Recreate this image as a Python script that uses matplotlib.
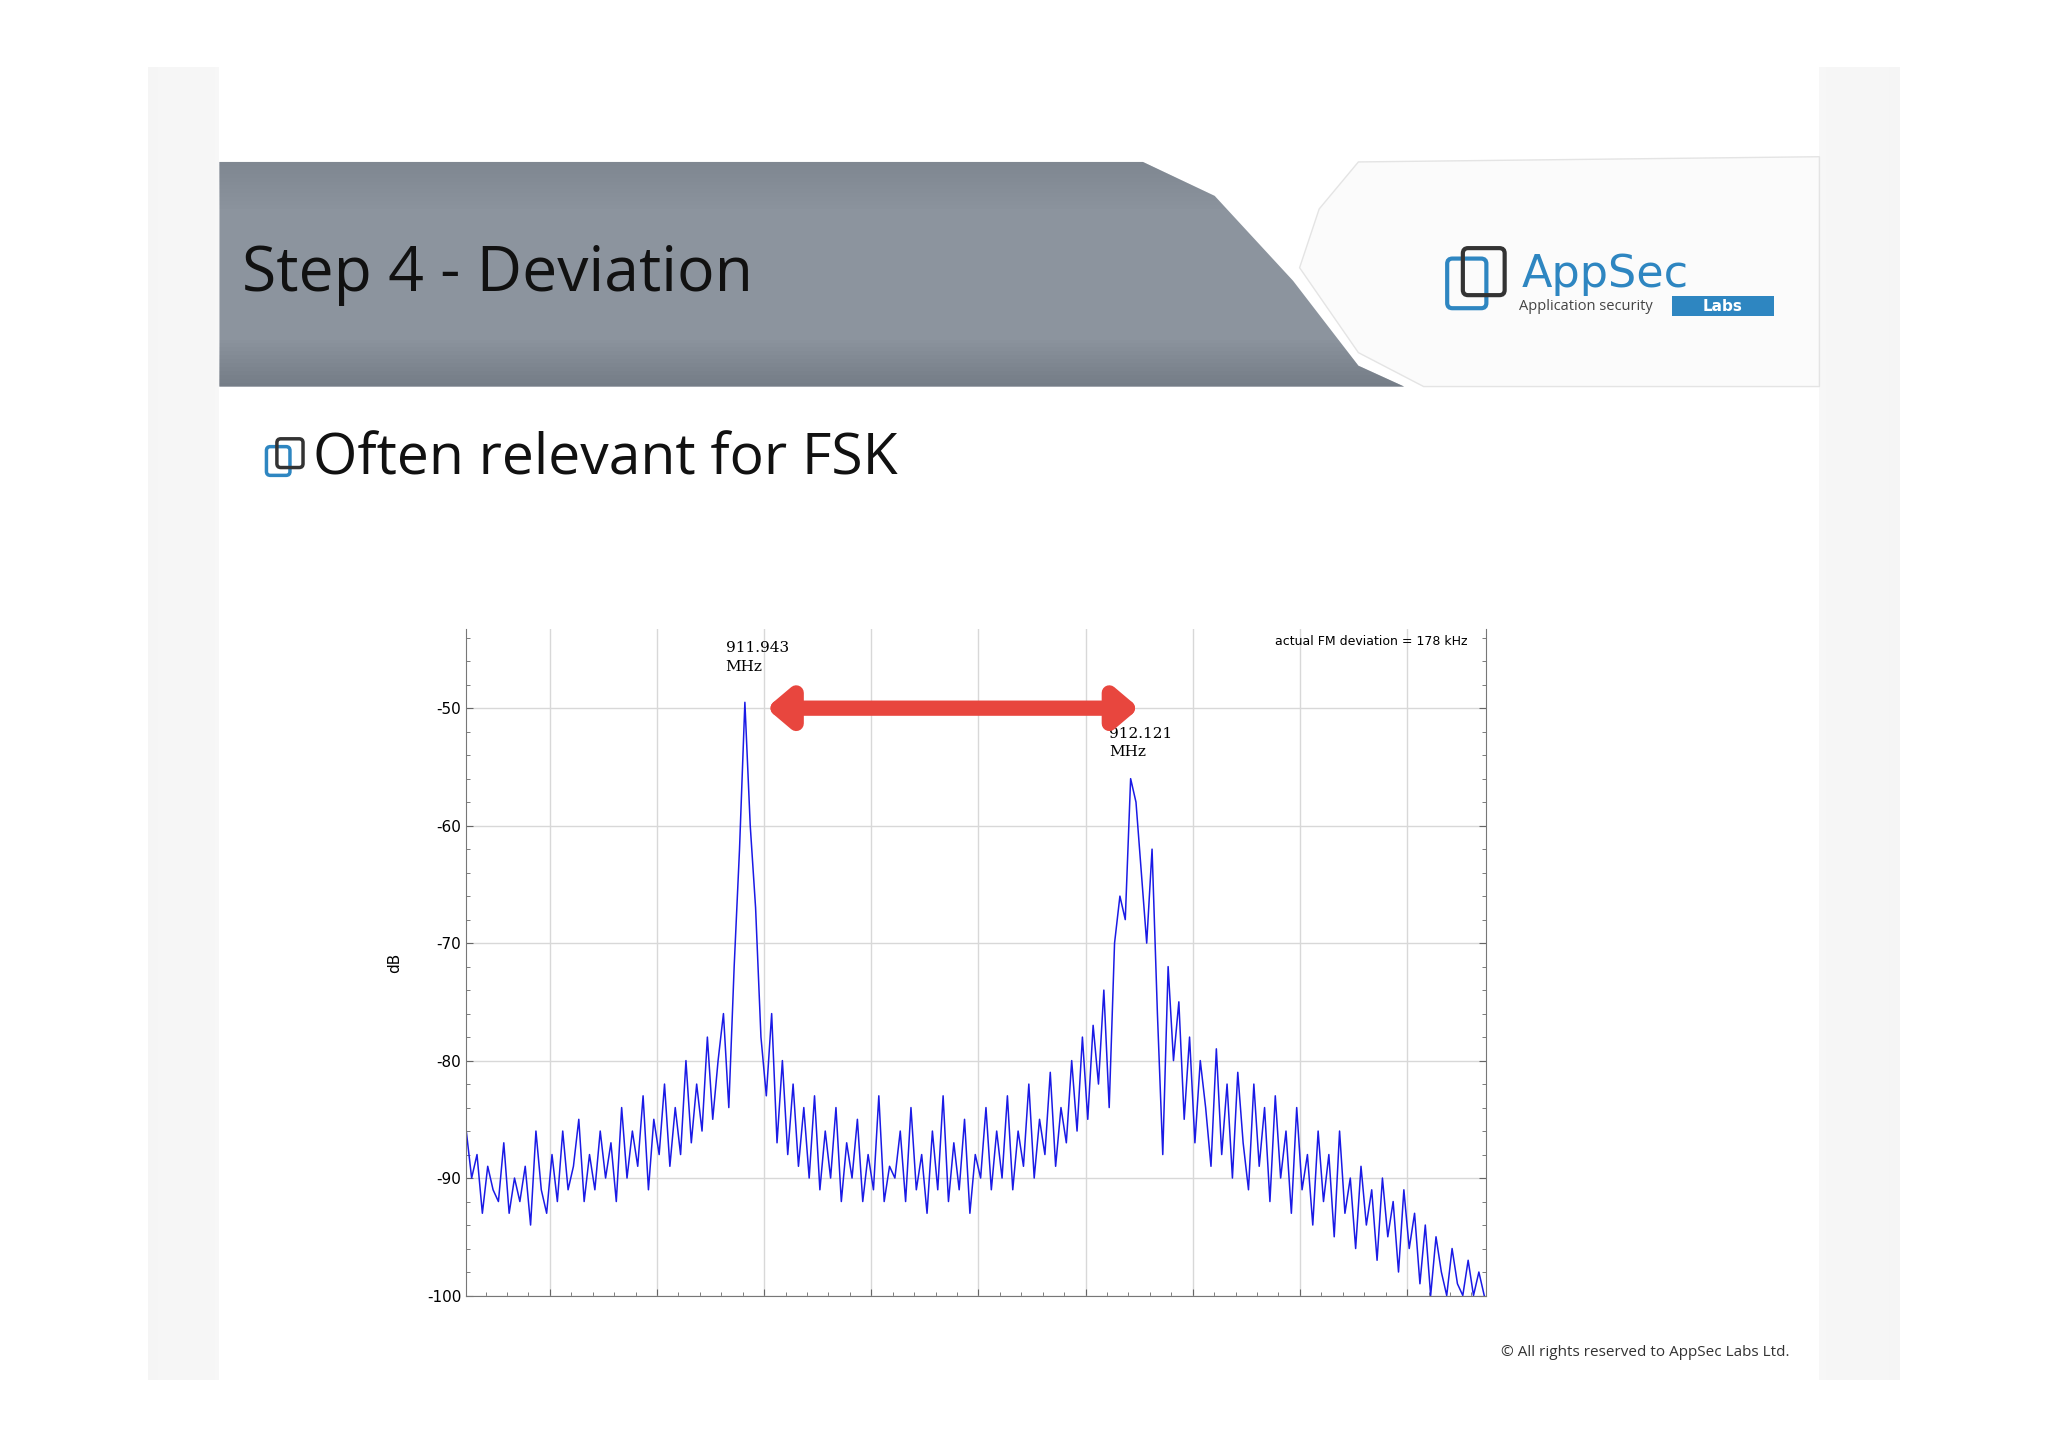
import numpy as np
import matplotlib
matplotlib.use("Agg")
import matplotlib.pyplot as plt
from matplotlib.patches import Rectangle, Polygon, FancyBboxPatch

# spectrum samples, 2.5 kHz apart starting at 911.811 MHz
f_start = 911.811
f_step = 0.0025
level_db = [
    -86, -90, -88, -93, -89, -91, -92, -87, -93, -90,
    -92, -89, -94, -86, -91, -93, -88, -92, -86, -91,
    -89, -85, -92, -88, -91, -86, -90, -87, -92, -84,
    -90, -86, -89, -83, -91, -85, -88, -82, -89, -84,
    -88, -80, -87, -82, -86, -78, -85, -80, -76, -84,
    -72, -62, -49.5, -60, -67, -78, -83, -76, -87, -80,
    -88, -82, -89, -84, -90, -83, -91, -86, -90, -84,
    -92, -87, -90, -85, -92, -88, -91, -83, -92, -89,
    -90, -86, -92, -84, -91, -88, -93, -86, -91, -83,
    -92, -87, -91, -85, -93, -88, -90, -84, -91, -86,
    -90, -83, -91, -86, -89, -82, -90, -85, -88, -81,
    -89, -84, -87, -80, -86, -78, -85, -77, -82, -74,
    -84, -70, -66, -68, -56, -58, -64, -70, -62, -76,
    -88, -72, -80, -75, -85, -78, -87, -80, -84, -89,
    -79, -88, -82, -90, -81, -87, -91, -82, -89, -84,
    -92, -83, -90, -86, -93, -84, -91, -88, -94, -86,
    -92, -88, -95, -86, -93, -90, -96, -89, -94, -91,
    -97, -90, -95, -92, -98, -91, -96, -93, -99, -94,
    -100, -95, -98, -100, -96, -99, -100, -97, -100, -98,
    -100,
]
freq_mhz = f_start + f_step * np.arange(len(level_db))
peak_labels = ["911.943\nMHz", "912.121\nMHz"]
y_ticks = [-50, -60, -70, -80, -90, -100]

fig = plt.figure(figsize=(20.48, 14.47), dpi=100)
bg = fig.add_axes([0, 0, 1, 1])
bg.set_xlim(0, 1568)
bg.set_ylim(1108, 0)
bg.axis("off")

# slide frame
bg.add_patch(Rectangle((113, 51), 1342, 1006, facecolor="#F7F7F7", edgecolor="none"))
bg.add_patch(Rectangle((168, 51), 1225, 1006, facecolor="white", edgecolor="none"))
for i in range(20):
    a = 0.025
    bg.add_patch(Rectangle((113 + i * 2.7, 51), 2.7, 1006, facecolor="#C8C8C8",
                           alpha=a * (20 - i) / 20, edgecolor="none"))
    bg.add_patch(Rectangle((1452 - i * 3, 51), 3, 1006, facecolor="#C8C8C8",
                           alpha=a * (20 - i) / 20, edgecolor="none"))
# header band
band = Polygon([(168, 124), (875, 124), (930, 150), (990, 215), (1040, 280),
                (1075, 296), (168, 296)], closed=True, facecolor="#8C949E",
               edgecolor="none")
bg.add_patch(band)
for k in range(12):
    r = Rectangle((168, 124 + k * 3), 950, 3, facecolor="#737B85", edgecolor="none",
                  alpha=0.5 * (12 - k) / 12)
    bg.add_patch(r)
    r.set_clip_path(band)
    r2 = Rectangle((168, 296 - (k + 1) * 3), 950, 3, facecolor="#666E78", edgecolor="none",
                   alpha=0.6 * (12 - k) / 12)
    bg.add_patch(r2)
    r2.set_clip_path(band)
bg.add_patch(Polygon([(1040, 124), (1393, 120), (1393, 296), (1090, 296), (1040, 270),
                      (995, 205), (1010, 160)], closed=True, facecolor="#FBFBFB",
                     edgecolor="#E4E4E4"))
bg.text(185, 210, "Step 4 - Deviation", fontsize=45, color="#111111", va="center",
        family="Open Sans")
# logo
bg.add_patch(FancyBboxPatch((1108, 198), 30, 38, boxstyle="round,pad=0,rounding_size=4",
                            facecolor="none", edgecolor="#2E86C1", lw=3))
bg.add_patch(FancyBboxPatch((1120, 190), 32, 36, boxstyle="round,pad=0,rounding_size=4",
                            facecolor="none", edgecolor="#333333", lw=3))
bg.text(1165, 210, "AppSec", fontsize=32, color="#2E86C1", va="center", family="DejaVu Sans")
bg.text(1163, 235, "Application security", fontsize=10.5, color="#444444", va="center",
        family="Open Sans")
bg.add_patch(Rectangle((1280, 227), 78, 15, facecolor="#2E86C1", edgecolor="none"))
bg.text(1319, 235, "Labs", fontsize=11, color="white", va="center", ha="center",
        weight="bold")
# bullet
bg.add_patch(FancyBboxPatch((204, 342), 18, 22, boxstyle="round,pad=0,rounding_size=3",
                            facecolor="none", edgecolor="#2E86C1", lw=2.5))
bg.add_patch(FancyBboxPatch((212, 336), 20, 22, boxstyle="round,pad=0,rounding_size=3",
                            facecolor="none", edgecolor="#333333", lw=2.5))
bg.text(240, 352, "Often relevant for FSK", fontsize=41, color="#111111", va="center",
        family="Open Sans")
bg.text(1370, 1036, "© All rights reserved to AppSec Labs Ltd.", fontsize=11,
        color="#333333", ha="right", va="center", family="Open Sans")

# spectrum plot
ax = fig.add_axes([357 / 1568, 1 - 992 / 1108, (1138 - 357) / 1568, (992 - 482) / 1108])
ax.plot(freq_mhz, level_db, color="#1A1AE6", lw=1.1)
ax.set_xlim(911.811, 912.287)
ax.set_ylim(-100, -43.3)
ax.set_yticks(y_ticks)
ax.set_yticklabels([str(v) for v in y_ticks], fontsize=11, family="DejaVu Sans Condensed")
ax.set_yticks(np.arange(-100, -43, 2), minor=True)
ax.set_xticks(np.arange(911.85, 912.27, 0.05))
ax.set_xticks(np.arange(911.82, 912.29, 0.01), minor=True)
ax.set_xticklabels([])
ax.grid(True, which="major", color="#D8D8D8", lw=1)
ax.tick_params(which="both", direction="in", right=True, length=5, color="#666666")
ax.tick_params(which="minor", length=3)
ax.spines["top"].set_visible(False)
for s in ["left", "bottom", "right"]:
    ax.spines[s].set_color("#777777")
ax.set_ylabel("dB", fontsize=11, labelpad=18)
ax.text(911.932, -44.3, peak_labels[0], fontsize=11, family="DejaVu Serif",
        va="top", linespacing=1.4)
ax.text(912.111, -51.6, peak_labels[1], fontsize=11, family="DejaVu Serif",
        va="top", linespacing=1.4)
ax.text(912.278, -44.3, "actual FM deviation = 178 kHz", fontsize=9, ha="right",
        va="center", family="DejaVu Sans Condensed")
ax.annotate("", xy=(911.951, -50), xytext=(912.125, -50),
            arrowprops=dict(arrowstyle="<|-|>,head_length=1.3,head_width=1.1",
                            color="#E8463E", lw=11, shrinkA=0, shrinkB=0))

fig.savefig("out.png", dpi=100, facecolor="white")
